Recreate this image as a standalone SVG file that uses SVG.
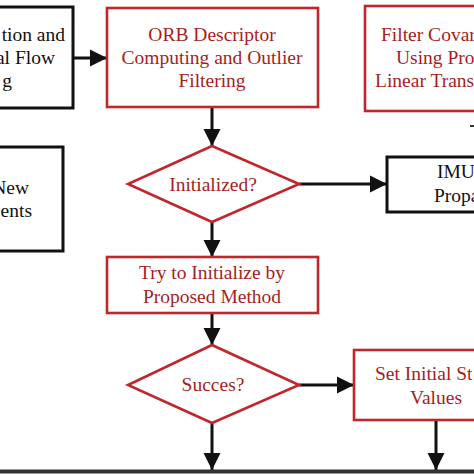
<svg xmlns="http://www.w3.org/2000/svg" width="474" height="474" viewBox="0 0 474 474">
<style>
.bk{fill:#fff;stroke:#111;stroke-width:3}
.rd{fill:#fff;stroke:#c0272d;stroke-width:2.6}
.tb{font-family:"Liberation Serif","Times New Roman",serif;font-size:19.5px;fill:#111}
.tr{font-family:"Liberation Serif","Times New Roman",serif;font-size:19.5px;fill:#a61e22}
.c{stroke:#111;stroke-width:3;fill:none}
</style>
<defs>
<marker id="ah" markerUnits="userSpaceOnUse" markerWidth="18" markerHeight="18" viewBox="0 0 18 18" refX="17" refY="9" orient="auto">
<path d="M0,0.5 L17,9 L0,17.5 Z" fill="#111"/>
</marker>
</defs>
<rect width="474" height="474" fill="#fff"/>
<g id="connectors">
<line class="c" x1="73" y1="58" x2="107" y2="58" marker-end="url(#ah)"/>
<line class="c" x1="212" y1="107" x2="212" y2="146" marker-end="url(#ah)"/>
<line class="c" x1="299" y1="184" x2="387" y2="184" marker-end="url(#ah)"/>
<line class="c" x1="212" y1="222" x2="212" y2="257" marker-end="url(#ah)"/>
<line class="c" x1="212" y1="313" x2="212" y2="345" marker-end="url(#ah)"/>
<line class="c" x1="299" y1="385" x2="354" y2="385" marker-end="url(#ah)"/>
<line class="c" x1="212" y1="422" x2="212" y2="470" marker-end="url(#ah)"/>
<line class="c" x1="436" y1="420" x2="436" y2="470" marker-end="url(#ah)"/>
<line x1="0" y1="471.5" x2="474" y2="471.5" stroke="#333" stroke-width="4"/>
<line x1="470" y1="126" x2="474" y2="126" stroke="#333" stroke-width="2"/>
</g>
<g id="n-feature">
<rect class="bk" x="-10" y="7" width="83" height="101"/>
<text class="tb" x="65" y="41" text-anchor="end">tion and</text>
<text class="tb" x="55" y="64" text-anchor="end">al Flow</text>
<text class="tb" x="12" y="87" text-anchor="end">g</text>
</g>
<g id="n-orb">
<rect class="rd" x="107" y="8" width="211" height="99"/>
<text class="tr" x="212" y="41" text-anchor="middle">ORB Descriptor</text>
<text class="tr" x="212" y="64" text-anchor="middle">Computing and Outlier</text>
<text class="tr" x="212" y="87" text-anchor="middle">Filtering</text>
</g>
<g id="n-filter">
<rect class="rd" x="365" y="6" width="120" height="105"/>
<text class="tr" x="381" y="41">Filter Covar</text>
<text class="tr" x="396" y="64">Using Pro</text>
<text class="tr" x="375" y="87">Linear Trans</text>
</g>
<g id="n-initialized">
<polygon class="rd" points="212,146 299,184 212,222 128,184"/>
<text class="tr" x="213" y="191" text-anchor="middle">Initialized?</text>
</g>
<g id="n-imu">
<rect class="bk" x="387" y="157" width="100" height="55"/>
<text class="tb" x="437" y="178">IMU</text>
<text class="tb" x="434" y="202">Propa</text>
</g>
<g id="n-new">
<rect class="bk" x="-10" y="147" width="73" height="104"/>
<text class="tb" x="29" y="194" text-anchor="end">New</text>
<text class="tb" x="32" y="217" text-anchor="end">ents</text>
</g>
<g id="n-try">
<rect class="rd" x="107" y="257" width="211" height="56"/>
<text class="tr" x="212" y="279" text-anchor="middle">Try to Initialize by</text>
<text class="tr" x="212" y="303" text-anchor="middle">Proposed Method</text>
</g>
<g id="n-succes">
<polygon class="rd" points="212,345 299,385 212,423 128,385"/>
<text class="tr" x="213" y="391" text-anchor="middle">Succes?</text>
</g>
<g id="n-set">
<rect class="rd" x="354" y="350" width="130" height="70"/>
<text class="tr" x="375" y="380">Set Initial St</text>
<text class="tr" x="410" y="404">Values</text>
</g>
</svg>
